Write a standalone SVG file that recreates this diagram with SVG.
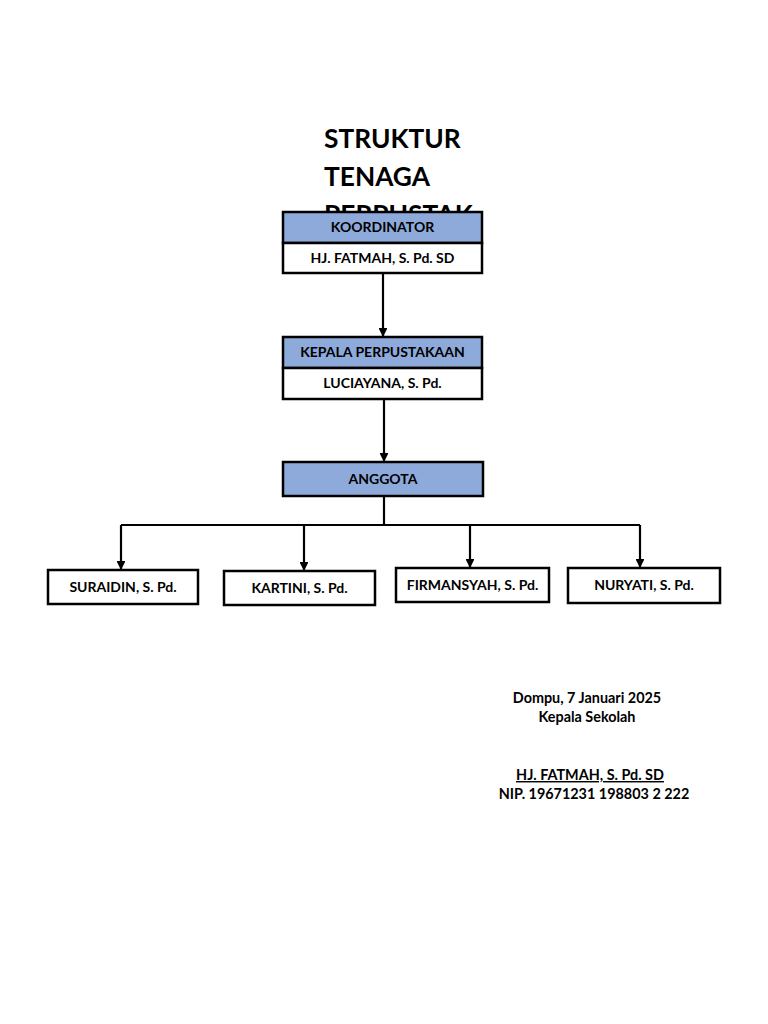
<svg xmlns="http://www.w3.org/2000/svg" width="768" height="1024" viewBox="0 0 768 1024">
<defs>
<marker id="arr" viewBox="0 0 10 10" refX="9" refY="5" markerWidth="4" markerHeight="4" orient="auto" markerUnits="strokeWidth">
<path d="M0,0 L10,5 L0,10 z" fill="#000"/>
</marker>
<clipPath id="titleClip"><rect x="300" y="100" width="200" height="112"/></clipPath>
<style>
.t{font-family:Lato,"Liberation Sans",sans-serif;font-weight:bold;fill:#000}
.lab{font-size:14px;text-anchor:middle}
.hdr{fill:#8eaadb;stroke:#000;stroke-width:2.5}
.box{fill:#fff;stroke:#000;stroke-width:2.5}
.con{fill:none;stroke:#000;stroke-width:2.2}
</style>
</defs>
<rect width="768" height="1024" fill="#fff"/>
<g id="title" class="t" font-size="26.3" clip-path="url(#titleClip)">
<text x="324" y="148">STRUKTUR</text>
<text x="324" y="186">TENAGA</text>
<text x="324" y="224">PERPUSTAK</text>
</g>
<g id="connectors">
<line class="con" x1="383" y1="273" x2="383" y2="336" marker-end="url(#arr)"/>
<line class="con" x1="384" y1="399" x2="384" y2="461" marker-end="url(#arr)"/>
<polyline class="con" points="384,496 384,525"/>
<line class="con" x1="121" y1="525" x2="640" y2="525"/>
<line class="con" x1="121" y1="525" x2="121" y2="569" marker-end="url(#arr)"/>
<line class="con" x1="304" y1="525" x2="304" y2="570" marker-end="url(#arr)"/>
<line class="con" x1="470" y1="525" x2="470" y2="567" marker-end="url(#arr)"/>
<line class="con" x1="640" y1="525" x2="640" y2="567" marker-end="url(#arr)"/>
</g>
<g id="koordinator">
<rect class="hdr" x="283" y="212" width="199" height="31"/>
<rect class="box" x="283" y="243" width="199" height="30"/>
<text class="t lab" x="382.5" y="232">KOORDINATOR</text>
<text class="t lab" x="382.5" y="263">HJ. FATMAH, S. Pd. SD</text>
</g>
<g id="kepala">
<rect class="hdr" x="283" y="337" width="199" height="31"/>
<rect class="box" x="283" y="368" width="199" height="31"/>
<text class="t lab" x="382.5" y="357">KEPALA PERPUSTAKAAN</text>
<text class="t lab" x="382.5" y="388">LUCIAYANA, S. Pd.</text>
</g>
<g id="anggota">
<rect class="hdr" x="283" y="462" width="200" height="34"/>
<text class="t lab" x="383" y="484">ANGGOTA</text>
</g>
<g id="suraidin">
<rect class="box" x="48" y="570" width="150" height="34"/>
<text class="t lab" x="123" y="592">SURAIDIN, S. Pd.</text>
</g>
<g id="kartini">
<rect class="box" x="224" y="571" width="151" height="34"/>
<text class="t lab" x="299.5" y="593">KARTINI, S. Pd.</text>
</g>
<g id="firmansyah">
<rect class="box" x="396" y="568" width="153" height="34"/>
<text class="t lab" x="472.5" y="590">FIRMANSYAH, S. Pd.</text>
</g>
<g id="nuryati">
<rect class="box" x="568" y="568" width="152" height="35"/>
<text class="t lab" x="644" y="590">NURYATI, S. Pd.</text>
</g>
<g id="signature" class="t" font-size="14.4" text-anchor="middle">
<text x="587" y="703">Dompu, 7 Januari 2025</text>
<text x="587" y="722">Kepala Sekolah</text>
<text x="590" y="780" text-decoration="underline">HJ. FATMAH, S. Pd. SD</text>
<text x="594" y="799">NIP. 19671231 198803 2 222</text>
</g>
</svg>
